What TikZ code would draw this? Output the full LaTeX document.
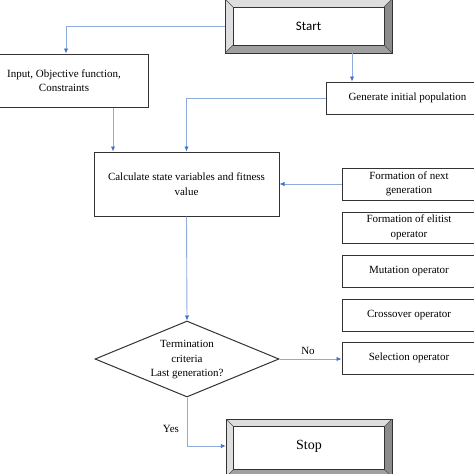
\documentclass[tikz,border=0pt]{standalone}
\usepackage{fontspec}
\setmainfont{Liberation Serif}
\newfontfamily\startfont{Carlito}
\usetikzlibrary{shapes.geometric,arrows.meta}
\definecolor{linec}{RGB}{143,170,220}
\definecolor{tipc}{RGB}{68,114,196}
\definecolor{bevlight}{RGB}{222,222,222}
\definecolor{bevdark}{RGB}{160,160,160}
\definecolor{bevright}{RGB}{140,140,140}
\newcommand\bevelpanel[5]{%
  \fill[bevlight] (#1,#2)--({#1+#5},{#2+#5})--({#1+#5},{#4-#5})--(#1,#4)--cycle;
  \fill[bevlight] (#1,#2)--(#3,#2)--({#3-#5},{#2+#5})--({#1+#5},{#2+#5})--cycle;
  \fill[bevright] (#3,#2)--(#3,#4)--({#3-#5},{#4-#5})--({#3-#5},{#2+#5})--cycle;
  \fill[bevdark] (#1,#4)--(#3,#4)--({#3-#5},{#4-#5})--({#1+#5},{#4-#5})--cycle;
  \draw[black!80,line width=0.9pt] (#1,#2) rectangle (#3,#4);
  \draw[black!80,line width=0.7pt,fill=white] ({#1+#5},{#2+#5}) rectangle ({#3-#5},{#4-#5});
  \draw[black!70,line width=0.5pt] (#1,#2)--({#1+#5},{#2+#5}) (#3,#2)--({#3-#5},{#2+#5})
     (#1,#4)--({#1+#5},{#4-#5}) (#3,#4)--({#3-#5},{#4-#5});
}
\begin{document}
\begin{tikzpicture}[x=1pt,y=-1pt,
  box/.style={draw=black!80,line width=1pt,fill=white,rectangle,inner sep=0pt,align=center,
    font=\fontsize{11}{14.5}\selectfont},
  plain/.style={inner sep=0pt,align=center,font=\fontsize{11}{14.5}\selectfont},
  conn/.style={draw=linec,line width=0.9pt},
  arr/.style={conn,-{Latex[length=5pt,width=4.5pt,color=tipc,fill=tipc]}}]
\useasboundingbox[fill=white] (0,0) rectangle (474,474);
% bevelled terminals
\bevelpanel{225}{-1}{392}{53}{8}
\bevelpanel{226}{419}{392}{477}{7.5}
\node[inner sep=0pt,minimum width=167pt,minimum height=54pt,font=\startfont\fontsize{13}{15}\selectfont] (start) at (308.5,26) {Start};
\node[inner sep=0pt,minimum width=166pt,minimum height=57pt,font=\fontsize{14}{16}\selectfont] (stop) at (309,446) {Stop};
% boxes
\node[box,minimum width=168pt,minimum height=53pt] (input) at (64,80.5) {Input, Objective function,\\Constraints};
\node[box,minimum width=163pt,minimum height=32pt] (gen) at (407.5,98) {Generate initial population};
\node[box,minimum width=185pt,minimum height=64pt] (calc) at (186.5,184) {Calculate state variables and fitness\\value};
\node[box,minimum width=134pt,minimum height=32pt] (next) at (409,184) {Formation of next\\generation};
\node[box,minimum width=134pt,minimum height=31pt] (elit) at (409,227.5) {Formation of elitist\\operator};
\node[box,minimum width=134pt,minimum height=32pt] (mut) at (409,271) {Mutation operator};
\node[box,minimum width=134pt,minimum height=32pt] (cross) at (409,315) {Crossover operator};
\node[box,minimum width=134pt,minimum height=32pt] (sel) at (409,358) {Selection operator};
\node[diamond,draw=black!80,line width=1pt,fill=white,minimum width=184pt,minimum height=76pt,inner sep=0pt] (dia) at (187,359) {};
\node[plain] (diatext) at (187,360) {Termination\\criteria\\Last generation?};
% connectors
\draw[arr] (start.west) -| ([xshift=2pt]input.north);
\draw[arr] ([xshift=43.5pt]start.south) -- ([xshift=43.5pt]start.south |- gen.north);
\draw[arr] (gen.west) -| (calc.north);
\draw[arr] ([xshift=49pt]input.south) -- ([xshift=49pt]input.south |- calc.north);
\draw[arr] (next.west) -- (calc.east);
\draw[arr] (calc.south) -- (dia.north);
\draw[arr] (dia.east) -- (dia.east -| sel.west);
\draw[arr] (dia.south) |- (stop.west);
\node[plain] (no) at (308,351) {No};
\node[plain] (yes) at (171,429) {Yes};
\end{tikzpicture}
\end{document}
